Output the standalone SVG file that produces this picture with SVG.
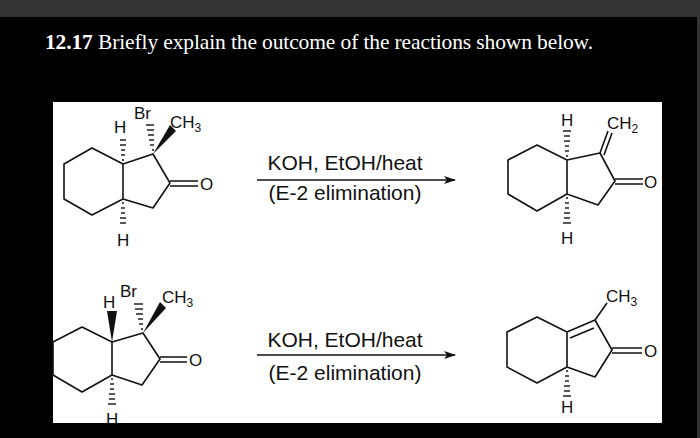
<svg xmlns="http://www.w3.org/2000/svg" width="700" height="438" viewBox="0 0 700 438">
<style>
.b{stroke:#111;stroke-width:1.6;fill:none;stroke-linejoin:round}
.h{stroke:#111;stroke-width:1.4}
.t{font-family:"Liberation Sans",Arial,sans-serif;font-size:17px;fill:#111}
.s{font-size:12px}
.r{font-family:"Liberation Sans",Arial,sans-serif;font-size:21px;fill:#111;text-anchor:middle}
</style>
<defs><marker id="ah" markerWidth="12" markerHeight="8" refX="11" refY="4" orient="auto" markerUnits="userSpaceOnUse"><path d="M0,0 L12,4 L0,8 L3,4 Z" fill="#111"/></marker></defs>
<rect width="700" height="438" fill="#000"/>
<rect width="700" height="17" fill="#333"/>
<rect x="697" y="17" width="3" height="421" fill="#333"/>
<text x="45" y="49" font-family="Liberation Serif,serif" font-size="21.5" fill="#fff" textLength="548"><tspan font-weight="bold">12.17</tspan> Briefly explain the outcome of the reactions shown below.</text>
<rect x="53" y="102" width="609" height="321" fill="#fff"/>

<g id="reactant1">
<path class="b" d="M123,164 L92,148 L64,164 L64,199 L92,215 L123,199 Z M123,164 L153,154 L170,183 L153,208 L123,199"/>
<path class="b" d="M170,181 L198,181 M170,186 L198,186"/>
<polygon points="153,154 170,125 176,131" fill="#111"/>
<g class="h"><line x1="152" y1="150" x2="154" y2="150"/><line x1="150" y1="145" x2="154" y2="145"/><line x1="149" y1="140" x2="154" y2="140"/><line x1="148" y1="135" x2="154" y2="135"/><line x1="147" y1="130" x2="154" y2="130"/><line x1="146" y1="125" x2="154" y2="125"/></g>
<g class="h"><line x1="122" y1="160" x2="124" y2="160"/><line x1="121" y1="155" x2="125" y2="155"/><line x1="121" y1="150" x2="125" y2="150"/><line x1="120" y1="145" x2="126" y2="145"/><line x1="120" y1="140" x2="126" y2="140"/></g>
<g class="h"><line x1="122" y1="203" x2="124" y2="203"/><line x1="121" y1="208" x2="125" y2="208"/><line x1="121" y1="213" x2="125" y2="213"/><line x1="120" y1="218" x2="126" y2="218"/><line x1="120" y1="223" x2="126" y2="223"/></g>
<text class="t" x="134" y="119">Br</text>
<text class="t" x="170" y="128">CH<tspan class="s" dy="4">3</tspan></text>
<text class="t" x="114" y="133">H</text>
<text class="t" x="117" y="246">H</text>
<text class="t" x="200" y="190">O</text>
</g>

<g id="product1">
<path class="b" d="M567,160 L537,145 L508,160 L508,194 L537,211 L567,194 Z M567,160 L600,153 L615,181 L598,205 L567,194"/>
<path class="b" d="M615,179 L643,179 M615,184 L643,184"/>
<path class="b" d="M600,153 L608,131 M604,155 L612,133"/>
<g class="h"><line x1="566" y1="156" x2="568" y2="156"/><line x1="565" y1="151" x2="569" y2="151"/><line x1="565" y1="146" x2="569" y2="146"/><line x1="564" y1="141" x2="570" y2="141"/><line x1="564" y1="136" x2="570" y2="136"/><line x1="563" y1="131" x2="571" y2="131"/></g>
<g class="h"><line x1="566" y1="198" x2="568" y2="198"/><line x1="565" y1="203" x2="569" y2="203"/><line x1="565" y1="208" x2="569" y2="208"/><line x1="564" y1="213" x2="570" y2="213"/><line x1="564" y1="218" x2="570" y2="218"/><line x1="563" y1="223" x2="571" y2="223"/></g>
<text class="t" x="561" y="126">H</text>
<text class="t" x="561" y="244">H</text>
<text class="t" x="607" y="129">CH<tspan class="s" dy="4">2</tspan></text>
<text class="t" x="644" y="188">O</text>
</g>

<g id="reactant2">
<path class="b" d="M112,342 L82,327 L53,342 L53,375 L82,392 L112,375 Z M112,342 L143,333 L160,359 L142,385 L112,375"/>
<path class="b" d="M160,357 L187,357 M160,362 L187,362"/>
<polygon points="143,333 160,302 166,308" fill="#111"/>
<polygon points="112,342 107,311 117,311" fill="#111"/>
<g class="h"><line x1="141" y1="329" x2="143" y2="329"/><line x1="139" y1="324" x2="143" y2="324"/><line x1="138" y1="319" x2="143" y2="319"/><line x1="136" y1="314" x2="143" y2="314"/><line x1="135" y1="309" x2="143" y2="309"/><line x1="134" y1="304" x2="143" y2="304"/></g>
<g class="h"><line x1="111" y1="379" x2="113" y2="379"/><line x1="110" y1="384" x2="114" y2="384"/><line x1="110" y1="389" x2="114" y2="389"/><line x1="109" y1="394" x2="115" y2="394"/><line x1="109" y1="399" x2="115" y2="399"/><line x1="108" y1="404" x2="116" y2="404"/></g>
<text class="t" x="120" y="297">Br</text>
<text class="t" x="162" y="303">CH<tspan class="s" dy="4">3</tspan></text>
<text class="t" x="103" y="308">H</text>
<text class="t" x="106" y="425">H</text>
<text class="t" x="189" y="366">O</text>
</g>

<g id="product2">
<path class="b" d="M567,332 L537,317 L507,332 L507,367 L537,383 L567,367 Z M567,332 L595,320 L612,350 L595,377 L567,367"/>
<path class="b" d="M570,338 L594,328"/>
<path class="b" d="M612,348 L642,348 M612,353 L642,353"/>
<path class="b" d="M595,320 L607,303"/>
<g class="h"><line x1="566" y1="371" x2="568" y2="371"/><line x1="565" y1="376" x2="569" y2="376"/><line x1="565" y1="381" x2="569" y2="381"/><line x1="564" y1="386" x2="570" y2="386"/><line x1="564" y1="391" x2="570" y2="391"/><line x1="563" y1="396" x2="571" y2="396"/></g>
<text class="t" x="561" y="413">H</text>
<text class="t" x="606" y="302">CH<tspan class="s" dy="4">3</tspan></text>
<text class="t" x="644" y="357">O</text>
</g>

<g id="connectors">
<line x1="257" y1="180" x2="455" y2="180" stroke="#111" stroke-width="1.6" marker-end="url(#ah)"/>
<line x1="257" y1="355" x2="455" y2="355" stroke="#111" stroke-width="1.6" marker-end="url(#ah)"/>
</g>
<g id="labels">
<text class="r" x="345" y="170">KOH, EtOH/heat</text>
<text class="r" x="345" y="200">(E-2 elimination)</text>
<text class="r" x="345" y="347">KOH, EtOH/heat</text>
<text class="r" x="345" y="380">(E-2 elimination)</text>
</g>
</svg>
